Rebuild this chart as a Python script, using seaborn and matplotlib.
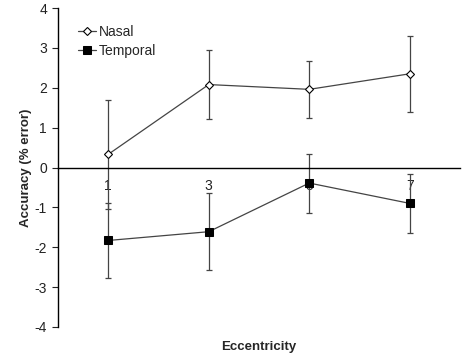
import matplotlib
matplotlib.use("Agg")
import matplotlib.pyplot as plt
import seaborn as sns
import pandas as pd
import numpy as np

# data
eccentricity = ["1", "3", "5", "7"]
nasal_mean = [0.33, 2.08, 1.96, 2.35]
nasal_err = [1.37, 0.87, 0.72, 0.96]
temporal_mean = [-1.83, -1.61, -0.39, -0.90]
temporal_err = [0.93, 0.96, 0.74, 0.74]

pos = np.arange(len(eccentricity))
df = pd.DataFrame({
    "pos": np.concatenate([pos, pos]),
    "acc": nasal_mean + temporal_mean,
    "side": ["Nasal"] * 4 + ["Temporal"] * 4,
})

sns.set_style("white")
plt.rcParams["font.family"] = ["Liberation Sans", "DejaVu Sans"]
plt.rcParams["axes.unicode_minus"] = False

fig = plt.figure(figsize=(4.74, 3.62), dpi=100)
ax = fig.add_axes([58 / 474, 1 - 327 / 362, (460 - 58) / 474, (327 - 8) / 362])

line_col = "#444444"

# error bars first, under the markers
ax.errorbar(pos, nasal_mean, yerr=nasal_err, fmt="none", ecolor=line_col,
            elinewidth=0.9, capsize=2.5, capthick=0.9, zorder=2)
ax.errorbar(pos, temporal_mean, yerr=temporal_err, fmt="none", ecolor=line_col,
            elinewidth=0.9, capsize=2.5, capthick=0.9, zorder=2)

sns.lineplot(data=df[df.side == "Nasal"], x="pos", y="acc", ax=ax,
             color=line_col, lw=0.9, marker="D", markersize=4.5,
             markerfacecolor="white", markeredgecolor="black", markeredgewidth=0.8,
             label="Nasal", zorder=3)
sns.lineplot(data=df[df.side == "Temporal"], x="pos", y="acc", ax=ax,
             color=line_col, lw=0.9, marker="s", markersize=6,
             markerfacecolor="black", markeredgecolor="black",
             label="Temporal", zorder=3)

ax.set_xlim(-0.5, 3.5)
ax.set_ylim(-4, 4)
ax.set_yticks(range(-4, 5))
ax.set_xticks(pos)
ax.set_xticklabels(eccentricity)
ax.set_xticks(pos + 0.5, minor=True)
ax.tick_params(axis="x", which="major", length=0, pad=8, labelsize=10, colors="#222222")
ax.tick_params(axis="x", which="minor", direction="in", length=4, width=0.8, color="black")
ax.tick_params(axis="y", direction="out", length=4, width=0.8, labelsize=10,
               left=True, colors="#222222", pad=4)
ax.set_axisbelow(True)

for s in ["top", "right"]:
    ax.spines[s].set_visible(False)
ax.spines["bottom"].set_position(("data", 0))
for s in ["left", "bottom"]:
    ax.spines[s].set_linewidth(1.0)
    ax.spines[s].set_color("black")

ax.set_xlabel("")
ax.set_ylabel("Accuracy (% error)", fontsize=9.5, fontweight="bold", labelpad=2)
fig.text((58 + 460) / 2 / 474, 1 - 347 / 362, "Eccentricity", ha="center", va="center",
         fontsize=9.5, fontweight="bold")

leg = ax.legend(loc="upper left", bbox_to_anchor=(0.035, 0.965), frameon=False,
                handlelength=1.3, handletextpad=0.2, labelspacing=0.35, fontsize=10,
                borderaxespad=0)

fig.savefig("out.png", dpi=100)
